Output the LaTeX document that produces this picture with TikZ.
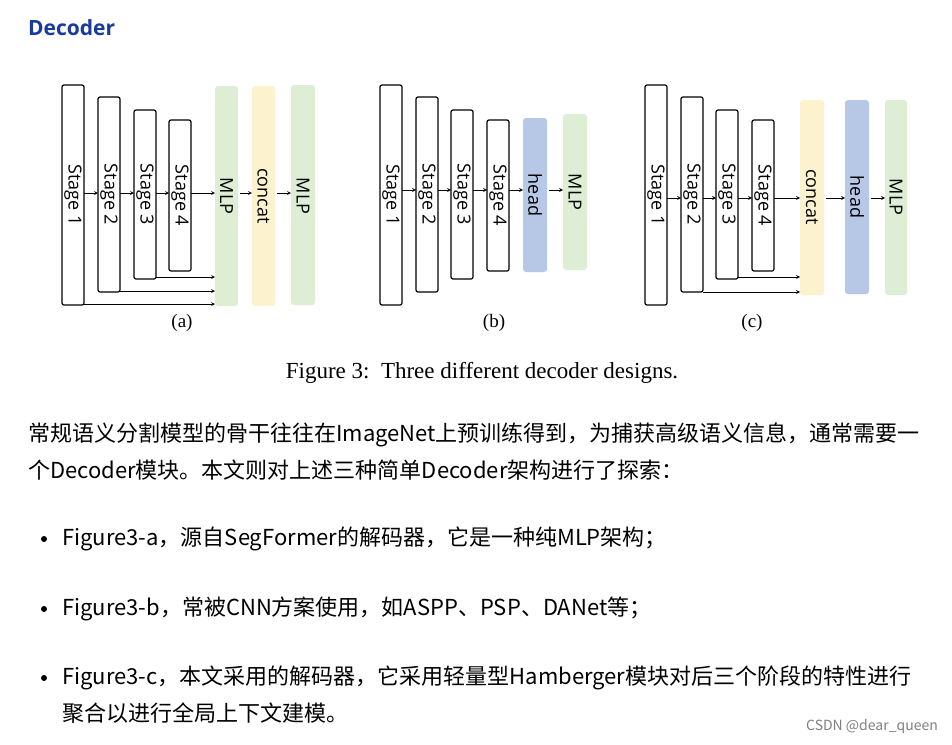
\documentclass[tikz,border=0pt]{standalone}
\usepackage{fontspec}
\setsansfont{Open Sans}
\setmainfont{Liberation Serif}
\newfontfamily\cjk{Noto Sans CJK SC}
\definecolor{gfill}{HTML}{DDEED5}
\definecolor{yfill}{HTML}{FDF2CE}
\definecolor{bfill}{HTML}{B7C8E6}
\definecolor{ttl}{HTML}{1A3A9E}
\begin{document}
\begin{tikzpicture}[x=1pt,y=-1pt,
  stg/.style={draw,line width=1.2pt,rounded corners=2pt,fill=white},
  blk/.style={rounded corners=3pt},
  lab/.style={font=\sffamily\fontsize{18}{18}\selectfont,rotate=-90},
  arr/.style={-stealth,line width=0.7pt},
  body/.style={anchor=west,font=\cjk\fontsize{22}{22}\selectfont,inner sep=0pt}]
\useasboundingbox (0,0) rectangle (952,744);
\fill[white] (0,0) rectangle (952,744);
\node[anchor=west,inner sep=0pt,text=ttl,font=\fontspec{Open Sans}\bfseries\fontsize{21}{21}\selectfont] (t) at (28,28) {Decoder};
\newcommand\panelstages[5]{%
 \draw[stg] (#1,85) rectangle (#1+22,305) node[lab,midway] (#51) {Stage 1};
 \draw[stg] (#2,97) rectangle (#2+22,292) node[lab,midway] (#52) {Stage 2};
 \draw[stg] (#3,110) rectangle (#3+22,279) node[lab,midway] (#53) {Stage 3};
 \draw[stg] (#4,120) rectangle (#4+22,271) node[lab,midway] (#54) {Stage 4};}
\panelstages{62}{98}{134}{169}{a}
\fill[gfill,blk] (215,86) rectangle (238,306);
\node[lab] (amlp) at (226.5,196) {MLP};
\fill[yfill,blk] (252,86) rectangle (275,306);
\node[lab] (acat) at (263.5,196) {concat};
\fill[gfill,blk] (291,85) rectangle (315,305);
\node[lab] (amlp2) at (303,196) {MLP};
\draw[arr] (84,193)--(98,193); \draw[arr] (120,193)--(134,193); \draw[arr] (156,193)--(169,193);
\draw[arr] (191,193)--(215,193); \draw[arr] (240,193)--(252,193); \draw[arr] (277,193)--(291,193);
\draw[arr] (156,277)--(215,277); \draw[arr] (120,291)--(215,291); \draw[arr] (84,304)--(215,304);
\node[font=\fontsize{19}{19}\selectfont] (la) at (182,323) {(a)};
\panelstages{380}{416}{451}{487}{b}
\fill[bfill,blk] (523,118) rectangle (547,272);
\node[lab] (bhead) at (535,195) {head};
\fill[gfill,blk] (563,114) rectangle (587,270);
\node[lab] (bmlp) at (575,192) {MLP};
\draw[arr] (402,190)--(416,190); \draw[arr] (438,190)--(451,190); \draw[arr] (473,190)--(487,190);
\draw[arr] (509,190)--(523,190); \draw[arr] (549,190)--(563,190);
\node[font=\fontsize{19}{19}\selectfont] (lb) at (494,323) {(b)};
\panelstages{645}{681}{716}{752}{c}
\fill[yfill,blk] (800,100) rectangle (824,295);
\node[lab] (ccat) at (812,197) {concat};
\fill[bfill,blk] (845,100) rectangle (869,294);
\node[lab] (chead) at (857,197) {head};
\fill[gfill,blk] (885,100) rectangle (907,295);
\node[lab] (cmlp) at (896,197) {MLP};
\draw[arr] (667,198)--(681,198); \draw[arr] (703,198)--(716,198); \draw[arr] (738,198)--(752,198);
\draw[arr] (774,198)--(800,198); \draw[arr] (826,198)--(845,198); \draw[arr] (871,198)--(885,198);
\draw[arr] (738,277)--(800,277); \draw[arr] (703,292)--(800,292);
\node[font=\fontsize{19}{19}\selectfont] (lc) at (752,323) {(c)};
\node[font=\fontsize{23}{23}\selectfont] (cap) at (482,373) {Figure 3:\ \ Three different decoder designs.};
\node[body] (p1) at (28,435) {常规语义分割模型的骨干往往在ImageNet上预训练得到，为捕获高级语义信息，通常需要一};
\node[body] (p2) at (28,470) {个Decoder模块。本文则对上述三种简单Decoder架构进行了探索：};
\foreach \y in {539,609,678} \fill (44,\y) circle (3);
\node[body] (b1) at (62,539) {Figure3-a，源自SegFormer的解码器，它是一种纯MLP架构；};
\node[body] (b2) at (62,609) {Figure3-b，常被CNN方案使用，如ASPP、PSP、DANet等；};
\node[body] (b3) at (62,678) {Figure3-c，本文采用的解码器，它采用轻量型Hamberger模块对后三个阶段的特性进行};
\node[body] (b4) at (62,713) {聚合以进行全局上下文建模。};
\node[anchor=east,inner sep=0pt,text=gray,font=\cjk\fontsize{14}{14}\selectfont] (wm) at (938,727) {CSDN @dear\_queen};
\end{tikzpicture}
\end{document}
